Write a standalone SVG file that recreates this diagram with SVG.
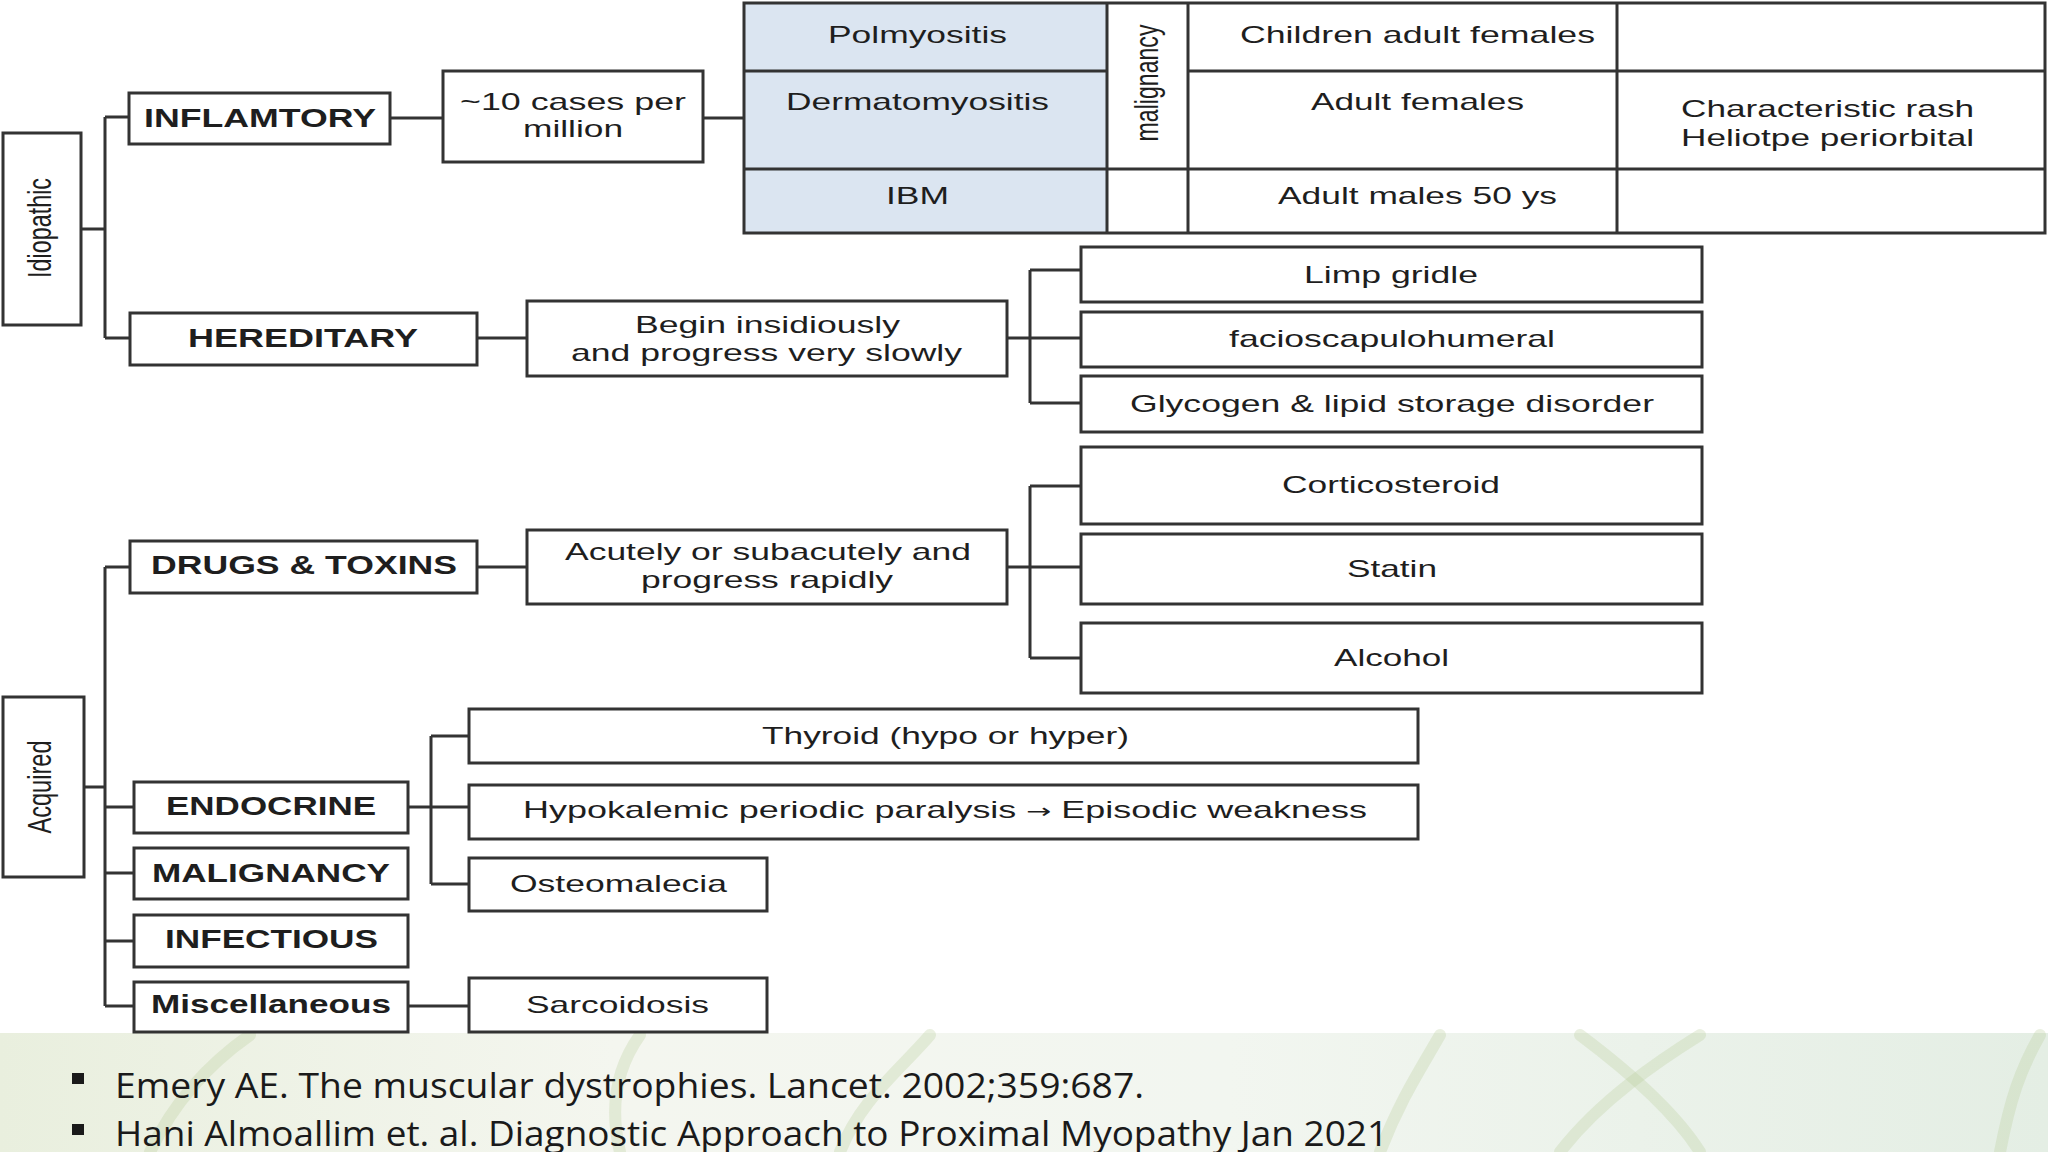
<svg xmlns="http://www.w3.org/2000/svg" width="2048" height="1152" viewBox="0 0 2048 1152">
<defs>
<linearGradient id="bg" x1="0" y1="0" x2="1" y2="0">
<stop offset="0" stop-color="#e9efde"/>
<stop offset="0.3" stop-color="#f4f6ef"/>
<stop offset="0.6" stop-color="#f2f6f0"/>
<stop offset="1" stop-color="#e4eee4"/>
</linearGradient>
<style>
.box{fill:#ffffff;stroke:#333333;stroke-width:3}
.ln{fill:none;stroke:#333333;stroke-width:3}
.t{font-family:"Liberation Sans",Arial,sans-serif;font-size:24px;fill:#1e1e1e;text-anchor:middle}
.b{font-family:"Liberation Sans",Arial,sans-serif;font-size:25px;font-weight:bold;fill:#1e1e1e;text-anchor:middle}
.ref{font-family:"Liberation Sans Narrow","Open Sans",sans-serif;font-size:34px;fill:#1a1a1a}
.vine{fill:none;stroke:#b9cc9a;stroke-width:12;stroke-linecap:round;opacity:0.3}
</style>
</defs>
<rect x="0" y="0" width="2048" height="1152" fill="#ffffff"/>
<g id="background">
<rect x="0" y="1033" width="2048" height="119" fill="url(#bg)"/>
<path class="vine" d="M150,1152 C170,1110 200,1070 250,1035"/>
<path class="vine" d="M620,1152 C610,1110 615,1070 640,1035"/>
<path class="vine" d="M840,1152 C860,1100 900,1070 930,1035"/>
<path class="vine" d="M1380,1152 C1400,1100 1420,1070 1440,1035"/>
<path class="vine" d="M1560,1152 C1600,1100 1660,1060 1700,1035"/>
<path class="vine" d="M1580,1035 C1640,1080 1680,1120 1700,1152"/>
<path class="vine" d="M2000,1152 C2010,1100 2020,1070 2040,1035"/>
</g>
<g id="connectors">
<path class="ln" d="M81,229 H105 M105,117 V338 M105,117 H129 M105,338 H130"/>
<path class="ln" d="M390,118 H443 M703,118 H744"/>
<path class="ln" d="M477,338 H527 M1007,338 H1081 M1030,270 V403 M1030,270 H1081 M1030,403 H1081"/>
<path class="ln" d="M477,567 H527 M1007,567 H1081 M1030,486 V658 M1030,486 H1081 M1030,658 H1081"/>
<path class="ln" d="M84,787 H105 M105,567 V1006 M105,567 H130 M105,807 H134 M105,873 H134 M105,941 H134 M105,1006 H134"/>
<path class="ln" d="M408,807 H469 M431,736 V884 M431,736 H469 M431,884 H469 M408,1006 H469"/>
</g>
<g id="idiopathic">
<rect class="box" x="3" y="133" width="78" height="192"/>
<text class="t" transform="translate(51,228) rotate(-90) scale(1,1.4)" x="0" y="0" textLength="100" lengthAdjust="spacingAndGlyphs">Idiopathic</text>
</g>
<g id="inflamtory">
<rect class="box" x="129" y="93" width="261" height="51"/>
<text class="b" x="260" y="127" textLength="232" lengthAdjust="spacingAndGlyphs">INFLAMTORY</text>
</g>
<g id="cases">
<rect class="box" x="443" y="71" width="260" height="91"/>
<text class="t" x="573" y="110" textLength="226" lengthAdjust="spacingAndGlyphs">~10 cases per</text>
<text class="t" x="573" y="137" textLength="100" lengthAdjust="spacingAndGlyphs">million</text>
</g>
<g id="table">
<rect x="744" y="3" width="363" height="230" fill="#dbe5f1"/>
<rect x="744" y="3" width="1301" height="230" fill="none" stroke="#333333" stroke-width="3"/>
<path class="ln" d="M1107,3 V233 M1188,3 V233 M1617,3 V233 M744,71 H1107 M1188,71 H2045 M744,169 H2045"/>
<text class="t" x="917.5" y="43" textLength="179" lengthAdjust="spacingAndGlyphs">Polmyositis</text>
<text class="t" x="917.5" y="110" textLength="263" lengthAdjust="spacingAndGlyphs">Dermatomyositis</text>
<text class="t" x="917.5" y="204" textLength="63" lengthAdjust="spacingAndGlyphs">IBM</text>
<text class="t" transform="translate(1158,83) rotate(-90) scale(1,1.4)" x="0" y="0" textLength="117" lengthAdjust="spacingAndGlyphs">malignancy</text>
<text class="t" x="1417.5" y="43" textLength="355" lengthAdjust="spacingAndGlyphs">Children adult females</text>
<text class="t" x="1417.5" y="110" textLength="213" lengthAdjust="spacingAndGlyphs">Adult females</text>
<text class="t" x="1417.5" y="204" textLength="279" lengthAdjust="spacingAndGlyphs">Adult males 50 ys</text>
<text class="t" x="1827.5" y="117" textLength="293" lengthAdjust="spacingAndGlyphs">Characteristic rash</text>
<text class="t" x="1827.5" y="146" textLength="293" lengthAdjust="spacingAndGlyphs">Heliotpe periorbital</text>
</g>
<g id="hereditary">
<rect class="box" x="130" y="313" width="347" height="52"/>
<text class="b" x="303" y="347" textLength="230" lengthAdjust="spacingAndGlyphs">HEREDITARY</text>
</g>
<g id="begin">
<rect class="box" x="527" y="301" width="480" height="75"/>
<text class="t" x="767.5" y="333" textLength="265" lengthAdjust="spacingAndGlyphs">Begin insidiously</text>
<text class="t" x="766.5" y="361" textLength="391" lengthAdjust="spacingAndGlyphs">and progress very slowly</text>
</g>
<g id="limp">
<rect class="box" x="1081" y="247" width="621" height="55"/>
<text class="t" x="1391" y="283" textLength="174" lengthAdjust="spacingAndGlyphs">Limp gridle</text>
</g>
<g id="facio">
<rect class="box" x="1081" y="312" width="621" height="55"/>
<text class="t" x="1392" y="347" textLength="326" lengthAdjust="spacingAndGlyphs">facioscapulohumeral</text>
</g>
<g id="glycogen">
<rect class="box" x="1081" y="376" width="621" height="56"/>
<text class="t" x="1392" y="412" textLength="524" lengthAdjust="spacingAndGlyphs">Glycogen &amp; lipid storage disorder</text>
</g>
<g id="drugs">
<rect class="box" x="130" y="541" width="347" height="52"/>
<text class="b" x="304" y="574" textLength="306" lengthAdjust="spacingAndGlyphs">DRUGS &amp; TOXINS</text>
</g>
<g id="acutely">
<rect class="box" x="527" y="530" width="480" height="74"/>
<text class="t" x="768" y="560" textLength="406" lengthAdjust="spacingAndGlyphs">Acutely or subacutely and</text>
<text class="t" x="767" y="588" textLength="252" lengthAdjust="spacingAndGlyphs">progress rapidly</text>
</g>
<g id="corticosteroid">
<rect class="box" x="1081" y="447" width="621" height="77"/>
<text class="t" x="1391" y="493" textLength="218" lengthAdjust="spacingAndGlyphs">Corticosteroid</text>
</g>
<g id="statin">
<rect class="box" x="1081" y="534" width="621" height="70"/>
<text class="t" x="1392" y="577" textLength="90" lengthAdjust="spacingAndGlyphs">Statin</text>
</g>
<g id="alcohol">
<rect class="box" x="1081" y="623" width="621" height="70"/>
<text class="t" x="1391.5" y="666" textLength="115" lengthAdjust="spacingAndGlyphs">Alcohol</text>
</g>
<g id="acquired">
<rect class="box" x="3" y="697" width="81" height="180"/>
<text class="t" transform="translate(51,787) rotate(-90) scale(1,1.4)" x="0" y="0" textLength="93" lengthAdjust="spacingAndGlyphs">Acquired</text>
</g>
<g id="endocrine">
<rect class="box" x="134" y="782" width="274" height="51"/>
<text class="b" x="271" y="815" textLength="210" lengthAdjust="spacingAndGlyphs">ENDOCRINE</text>
</g>
<g id="malignancy">
<rect class="box" x="134" y="848" width="274" height="51"/>
<text class="b" x="271" y="882" textLength="238" lengthAdjust="spacingAndGlyphs">MALIGNANCY</text>
</g>
<g id="infectious">
<rect class="box" x="134" y="915" width="274" height="52"/>
<text class="b" x="271.5" y="948" textLength="213" lengthAdjust="spacingAndGlyphs">INFECTIOUS</text>
</g>
<g id="miscellaneous">
<rect class="box" x="134" y="982" width="274" height="50"/>
<text class="b" x="271" y="1013" textLength="240" lengthAdjust="spacingAndGlyphs">Miscellaneous</text>
</g>
<g id="thyroid">
<rect class="box" x="469" y="709" width="949" height="54"/>
<text class="t" x="945.5" y="744" textLength="367" lengthAdjust="spacingAndGlyphs">Thyroid (hypo or hyper)</text>
</g>
<g id="hypokalemic">
<rect class="box" x="469" y="785" width="949" height="54"/>
<text class="t" x="945" y="818" textLength="844" lengthAdjust="spacingAndGlyphs">Hypokalemic periodic paralysis <tspan font-family="'DejaVu Sans',sans-serif" font-size="20">→</tspan> Episodic weakness</text>
</g>
<g id="osteomalecia">
<rect class="box" x="469" y="858" width="298" height="53"/>
<text class="t" x="618.5" y="892" textLength="217" lengthAdjust="spacingAndGlyphs">Osteomalecia</text>
</g>
<g id="sarcoidosis">
<rect class="box" x="469" y="978" width="298" height="54"/>
<text class="t" x="617.5" y="1013" textLength="183" lengthAdjust="spacingAndGlyphs">Sarcoidosis</text>
</g>
<g id="references">
<rect x="72" y="1073" width="12" height="11" fill="#1a1a1a"/>
<text class="ref" x="115" y="1098" textLength="1029" lengthAdjust="spacingAndGlyphs">Emery AE. The muscular dystrophies. Lancet. 2002;359:687.</text>
<rect x="72" y="1124" width="12" height="11" fill="#1a1a1a"/>
<text class="ref" x="115" y="1146" textLength="1273" lengthAdjust="spacingAndGlyphs">Hani Almoallim et. al. Diagnostic Approach to Proximal Myopathy Jan 2021</text>
</g>
</svg>
